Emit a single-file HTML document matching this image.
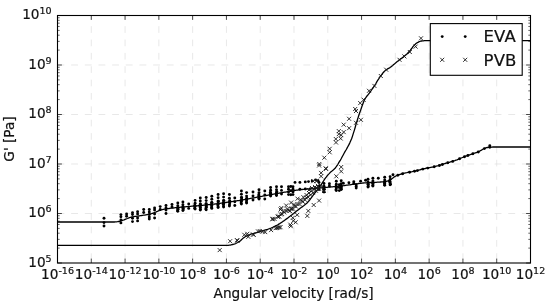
<!DOCTYPE html>
<html><head><meta charset="utf-8"><title>G' vs angular velocity</title><style>html,body{margin:0;padding:0;background:#fff}</style></head><body>
<svg width="550" height="305" viewBox="0 0 550 305" style="display:block;font-family:'DejaVu Sans','Liberation Sans',sans-serif">
<rect width="550" height="305" fill="#fff"/>
<g stroke="#dedede" stroke-width="0.7" fill="none">
<path d="M91.29 263.0V15.5" stroke-dasharray="6.68 6.68" stroke-dashoffset="-3"/>
<path d="M125.07 263.0V15.5" stroke-dasharray="6.68 6.68" stroke-dashoffset="-3"/>
<path d="M158.86 263.0V15.5" stroke-dasharray="6.68 6.68" stroke-dashoffset="-3"/>
<path d="M192.64 263.0V15.5" stroke-dasharray="6.68 6.68" stroke-dashoffset="-3"/>
<path d="M226.43 263.0V15.5" stroke-dasharray="6.68 6.68" stroke-dashoffset="-3"/>
<path d="M260.21 263.0V15.5" stroke-dasharray="6.68 6.68" stroke-dashoffset="-3"/>
<path d="M294.00 263.0V15.5" stroke-dasharray="6.68 6.68" stroke-dashoffset="-3"/>
<path d="M327.79 263.0V15.5" stroke-dasharray="6.68 6.68" stroke-dashoffset="-3"/>
<path d="M361.57 263.0V15.5" stroke-dasharray="6.68 6.68" stroke-dashoffset="-3"/>
<path d="M395.36 263.0V15.5" stroke-dasharray="6.68 6.68" stroke-dashoffset="-3"/>
<path d="M429.14 263.0V15.5" stroke-dasharray="6.68 6.68" stroke-dashoffset="-3"/>
<path d="M462.93 263.0V15.5" stroke-dasharray="6.68 6.68" stroke-dashoffset="-3"/>
<path d="M496.71 263.0V15.5" stroke-dasharray="6.68 6.68" stroke-dashoffset="-3"/>
<path d="M57.5 213.50H530.5" stroke-dasharray="6.83 6.83"/>
<path d="M57.5 164.00H530.5" stroke-dasharray="6.83 6.83"/>
<path d="M57.5 114.50H530.5" stroke-dasharray="6.83 6.83"/>
<path d="M57.5 65.00H530.5" stroke-dasharray="6.83 6.83"/>
</g>
<g fill="none" stroke="#000" stroke-width="1.3" stroke-linejoin="round">
<path d="M57.5 222.0L58.6 222.0L59.7 222.0L60.8 222.0L61.9 222.0L63.0 222.0L64.0 222.0L65.1 222.0L66.2 222.0L67.3 222.0L68.4 222.0L69.5 222.0L70.6 222.0L71.7 222.0L72.8 222.0L73.9 222.0L75.0 222.0L76.1 222.0L77.1 222.0L78.2 222.0L79.3 222.0L80.4 222.0L81.5 222.0L82.6 222.0L83.7 222.0L84.8 222.0L85.9 222.0L87.0 222.0L88.1 222.0L89.2 222.0L90.2 222.0L91.3 222.0L92.4 222.0L93.5 222.0L94.6 222.0L95.7 222.0L96.8 222.0L97.9 222.0L99.0 222.0L100.1 222.0L101.2 222.0L102.3 222.0L103.3 222.0L104.4 222.0L105.5 222.0L106.6 222.0L107.7 222.0L108.8 222.0L109.9 222.0L111.0 222.0L112.1 222.0L113.2 222.0L114.3 222.0L115.3 221.9L116.4 221.8L117.5 221.7L118.6 221.5L119.7 221.3L120.8 221.0L121.9 220.6L123.0 220.2L124.1 219.8L125.2 219.3L126.3 218.9L127.4 218.5L128.4 218.1L129.5 217.7L130.6 217.3L131.7 217.0L132.8 216.8L133.9 216.6L135.0 216.4L136.1 216.3L137.2 216.1L138.3 216.0L139.4 215.8L140.5 215.6L141.5 215.5L142.6 215.3L143.7 215.2L144.8 215.1L145.9 214.9L147.0 214.7L148.1 214.5L149.2 214.3L150.3 214.0L151.4 213.7L152.5 213.3L153.6 212.9L154.6 212.5L155.7 212.1L156.8 211.6L157.9 211.2L159.0 210.7L160.1 210.3L161.2 209.9L162.3 209.6L163.4 209.3L164.5 209.1L165.6 208.9L166.6 208.7L167.7 208.6L168.8 208.5L169.9 208.3L171.0 208.2L172.1 208.1L173.2 208.0L174.3 207.8L175.4 207.7L176.5 207.6L177.6 207.5L178.7 207.4L179.7 207.3L180.8 207.2L181.9 207.1L183.0 207.0L184.1 206.9L185.2 206.8L186.3 206.7L187.4 206.6L188.5 206.5L189.6 206.4L190.7 206.3L191.8 206.2L192.8 206.1L193.9 206.0L195.0 205.9L196.1 205.9L197.2 205.8L198.3 205.7L199.4 205.6L200.5 205.5L201.6 205.4L202.7 205.3L203.8 205.2L204.8 205.1L205.9 205.0L207.0 204.8L208.1 204.7L209.2 204.6L210.3 204.5L211.4 204.4L212.5 204.2L213.6 204.1L214.7 204.0L215.8 203.8L216.9 203.7L217.9 203.5L219.0 203.4L220.1 203.3L221.2 203.1L222.3 203.0L223.4 202.8L224.5 202.7L225.6 202.5L226.7 202.4L227.8 202.2L228.9 202.1L230.0 201.9L231.0 201.7L232.1 201.6L233.2 201.4L234.3 201.2L235.4 201.1L236.5 200.9L237.6 200.7L238.7 200.6L239.8 200.4L240.9 200.2L242.0 200.0L243.1 199.8L244.1 199.6L245.2 199.4L246.3 199.2L247.4 199.0L248.5 198.8L249.6 198.6L250.7 198.4L251.8 198.2L252.9 198.0L254.0 197.8L255.1 197.6L256.1 197.4L257.2 197.2L258.3 197.0L259.4 196.8L260.5 196.6L261.6 196.4L262.7 196.1L263.8 195.9L264.9 195.7L266.0 195.5L267.1 195.3L268.2 195.1L269.2 194.9L270.3 194.7L271.4 194.5L272.5 194.3L273.6 194.1L274.7 193.9L275.8 193.7L276.9 193.6L278.0 193.4L279.1 193.2L280.2 193.0L281.3 192.8L282.3 192.6L283.4 192.4L284.5 192.2L285.6 192.1L286.7 191.9L287.8 191.7L288.9 191.5L290.0 191.3L291.1 191.1L292.2 191.0L293.3 190.8L294.4 190.6L295.4 190.4L296.5 190.2L297.6 190.1L298.7 189.9L299.8 189.8L300.9 189.6L302.0 189.5L303.1 189.4L304.2 189.3L305.3 189.2L306.4 189.1L307.4 189.0L308.5 188.9L309.6 188.8L310.7 188.7L311.8 188.6L312.9 188.5L314.0 188.4L315.1 188.3L316.2 188.2L317.3 188.2L318.4 188.1L319.5 188.0L320.5 187.9L321.6 187.8L322.7 187.7L323.8 187.6L324.9 187.5L326.0 187.4L327.1 187.3L328.2 187.2L329.3 187.1L330.4 187.0L331.5 186.9L332.6 186.8L333.6 186.7L334.7 186.6L335.8 186.5L336.9 186.4L338.0 186.3L339.1 186.2L340.2 186.1L341.3 186.0L342.4 185.8L343.5 185.7L344.6 185.5L345.7 185.4L346.7 185.2L347.8 185.1L348.9 184.9L350.0 184.8L351.1 184.6L352.2 184.4L353.3 184.3L354.4 184.1L355.5 184.0L356.6 183.8L357.7 183.7L358.7 183.5L359.8 183.4L360.9 183.3L362.0 183.1L363.1 183.0L364.2 182.9L365.3 182.8L366.4 182.8L367.5 182.7L368.6 182.6L369.7 182.6L370.8 182.5L371.8 182.5L372.9 182.4L374.0 182.4L375.1 182.3L376.2 182.3L377.3 182.2L378.4 182.2L379.5 182.1L380.6 182.0L381.7 181.9L382.8 181.8L383.9 181.7L384.9 181.6L386.0 181.4L387.1 181.1L388.2 180.8L389.3 180.5L390.4 180.0L391.5 179.0L392.6 178.2L393.7 177.3L394.8 176.6L395.9 176.0L396.9 175.5L398.0 175.0L399.1 174.6L400.2 174.3L401.3 174.0L402.4 173.7L403.5 173.4L404.6 173.1L405.7 172.9L406.8 172.7L407.9 172.4L409.0 172.2L410.0 172.1L411.1 171.9L412.2 171.7L413.3 171.4L414.4 171.2L415.5 171.0L416.6 170.7L417.7 170.4L418.8 170.1L419.9 169.8L421.0 169.5L422.1 169.2L423.1 169.0L424.2 168.7L425.3 168.5L426.4 168.2L427.5 168.0L428.6 167.8L429.7 167.6L430.8 167.4L431.9 167.2L433.0 167.0L434.1 166.7L435.2 166.5L436.2 166.2L437.3 165.9L438.4 165.7L439.5 165.3L440.6 165.0L441.7 164.6L442.8 164.3L443.9 163.9L445.0 163.5L446.1 163.2L447.2 162.9L448.2 162.6L449.3 162.3L450.4 161.9L451.5 161.6L452.6 161.3L453.7 160.9L454.8 160.6L455.9 160.2L457.0 159.8L458.1 159.3L459.2 158.9L460.3 158.4L461.3 158.0L462.4 157.5L463.5 157.1L464.6 156.7L465.7 156.2L466.8 155.8L467.9 155.4L469.0 155.0L470.1 154.7L471.2 154.3L472.3 153.9L473.4 153.5L474.4 153.2L475.5 152.8L476.6 152.5L477.7 152.1L478.8 151.6L479.9 151.0L481.0 150.4L482.1 149.7L483.2 149.0L484.3 148.5L485.4 148.1L486.5 147.7L487.5 147.5L488.6 147.3L489.7 147.2L490.8 147.1L491.9 147.1L493.0 147.0H530.5"/>
<path d="M57.5 245.4L58.4 245.4L59.4 245.4L60.3 245.4L61.2 245.4L62.2 245.4L63.1 245.4L64.0 245.4L65.0 245.4L65.9 245.4L66.8 245.4L67.8 245.4L68.7 245.4L69.6 245.4L70.6 245.4L71.5 245.4L72.4 245.4L73.4 245.4L74.3 245.4L75.2 245.4L76.2 245.4L77.1 245.4L78.0 245.4L79.0 245.4L79.9 245.4L80.8 245.4L81.8 245.4L82.7 245.4L83.6 245.4L84.6 245.4L85.5 245.4L86.4 245.4L87.4 245.4L88.3 245.4L89.2 245.4L90.2 245.4L91.1 245.4L92.0 245.4L93.0 245.4L93.9 245.4L94.8 245.4L95.8 245.4L96.7 245.4L97.6 245.4L98.6 245.4L99.5 245.4L100.4 245.4L101.4 245.4L102.3 245.4L103.2 245.4L104.2 245.4L105.1 245.4L106.0 245.4L107.0 245.4L107.9 245.4L108.8 245.4L109.8 245.4L110.7 245.4L111.6 245.4L112.6 245.4L113.5 245.4L114.4 245.4L115.4 245.4L116.3 245.4L117.2 245.4L118.2 245.4L119.1 245.4L120.1 245.4L121.0 245.4L121.9 245.4L122.9 245.4L123.8 245.4L124.7 245.4L125.7 245.4L126.6 245.4L127.5 245.4L128.5 245.4L129.4 245.4L130.3 245.4L131.3 245.4L132.2 245.4L133.1 245.4L134.1 245.4L135.0 245.4L135.9 245.4L136.9 245.4L137.8 245.4L138.7 245.4L139.7 245.4L140.6 245.4L141.5 245.4L142.5 245.4L143.4 245.4L144.3 245.4L145.3 245.4L146.2 245.4L147.1 245.4L148.1 245.4L149.0 245.4L149.9 245.4L150.9 245.4L151.8 245.4L152.7 245.4L153.7 245.4L154.6 245.4L155.5 245.4L156.5 245.4L157.4 245.4L158.3 245.4L159.3 245.4L160.2 245.4L161.1 245.4L162.1 245.4L163.0 245.4L163.9 245.4L164.9 245.4L165.8 245.4L166.7 245.4L167.7 245.4L168.6 245.4L169.5 245.4L170.5 245.4L171.4 245.4L172.3 245.4L173.3 245.4L174.2 245.4L175.1 245.4L176.1 245.4L177.0 245.4L177.9 245.4L178.9 245.4L179.8 245.4L180.7 245.4L181.7 245.4L182.6 245.4L183.5 245.4L184.5 245.4L185.4 245.4L186.3 245.4L187.3 245.4L188.2 245.4L189.1 245.4L190.1 245.4L191.0 245.4L191.9 245.4L192.9 245.4L193.8 245.4L194.7 245.4L195.7 245.4L196.6 245.4L197.5 245.4L198.5 245.4L199.4 245.4L200.3 245.4L201.3 245.4L202.2 245.4L203.1 245.4L204.1 245.4L205.0 245.4L205.9 245.4L206.9 245.4L207.8 245.4L208.7 245.4L209.7 245.4L210.6 245.4L211.5 245.4L212.5 245.4L213.4 245.4L214.3 245.4L215.3 245.4L216.2 245.4L217.1 245.4L218.1 245.4L219.0 245.4L219.9 245.4L220.9 245.4L221.8 245.4L222.7 245.4L223.7 245.4L224.6 245.4L225.5 245.4L226.5 245.4L227.4 245.4L228.3 245.3L229.3 245.2L230.2 245.1L231.1 244.9L232.1 244.7L233.0 244.5L233.9 244.2L234.9 243.9L235.8 243.5L236.7 243.0L237.7 242.5L238.6 242.0L239.5 241.4L240.5 240.7L241.4 239.8L242.3 238.9L243.3 238.1L244.2 237.4L245.2 236.8L246.1 236.2L247.0 235.8L248.0 235.3L248.9 234.9L249.8 234.6L250.8 234.2L251.7 233.9L252.6 233.7L253.6 233.4L254.5 233.1L255.4 232.8L256.4 232.6L257.3 232.3L258.2 232.1L259.2 231.8L260.1 231.5L261.0 231.2L262.0 231.0L262.9 230.7L263.8 230.5L264.8 230.2L265.7 229.9L266.6 229.6L267.6 229.4L268.5 229.0L269.4 228.7L270.4 228.3L271.3 228.0L272.2 227.5L273.2 227.1L274.1 226.7L275.0 226.2L276.0 225.7L276.9 225.2L277.8 224.7L278.8 224.1L279.7 223.6L280.6 223.0L281.6 222.4L282.5 221.8L283.4 221.1L284.4 220.5L285.3 219.8L286.2 219.1L287.2 218.4L288.1 217.7L289.0 217.0L290.0 216.3L290.9 215.6L291.8 214.9L292.8 214.1L293.7 213.4L294.6 212.6L295.6 211.9L296.5 211.1L297.4 210.4L298.4 209.7L299.3 208.9L300.2 208.2L301.2 207.5L302.1 206.9L303.0 206.2L304.0 205.5L304.9 204.8L305.8 204.0L306.8 203.2L307.7 202.3L308.6 201.2L309.6 200.1L310.5 198.8L311.4 197.6L312.4 196.3L313.3 195.0L314.2 193.8L315.2 192.6L316.1 191.5L317.0 190.3L318.0 189.1L318.9 187.9L319.8 186.7L320.8 185.4L321.7 183.9L322.6 182.4L323.6 180.9L324.5 179.4L325.4 178.1L326.4 176.9L327.3 175.7L328.2 174.6L329.2 173.6L330.1 172.6L331.0 171.7L332.0 171.0L332.9 170.3L333.8 169.5L334.8 168.6L335.7 167.5L336.6 166.2L337.6 164.8L338.5 163.2L339.4 161.7L340.4 160.1L341.3 158.5L342.2 156.8L343.2 155.0L344.1 153.3L345.0 151.6L346.0 150.0L346.9 148.4L347.8 146.7L348.8 144.9L349.7 143.1L350.6 141.1L351.6 138.8L352.5 136.1L353.4 133.1L354.4 130.1L355.3 127.0L356.2 123.7L357.2 120.5L358.1 117.6L359.0 114.8L360.0 112.1L360.9 109.4L361.8 106.7L362.8 104.1L363.7 101.7L364.6 99.6L365.6 98.0L366.5 96.7L367.4 95.5L368.4 94.3L369.3 93.1L370.3 91.8L371.2 90.5L372.1 89.2L373.1 87.9L374.0 86.5L374.9 85.1L375.9 83.5L376.8 81.9L377.7 80.3L378.7 78.8L379.6 77.3L380.5 76.0L381.5 74.8L382.4 73.6L383.3 72.5L384.3 71.5L385.2 70.6L386.1 69.9L387.1 69.3L388.0 68.7L388.9 68.2L389.9 67.6L390.8 66.9L391.7 66.2L392.7 65.4L393.6 64.6L394.5 63.9L395.5 63.1L396.4 62.3L397.3 61.6L398.3 60.8L399.2 60.0L400.1 59.3L401.1 58.6L402.0 58.0L402.9 57.3L403.9 56.6L404.8 55.8L405.7 55.0L406.7 54.2L407.6 53.3L408.5 52.3L409.5 51.3L410.4 50.2L411.3 49.0L412.3 47.7L413.2 46.4L414.1 45.3L415.1 44.4L416.0 43.6L416.9 42.9L417.9 42.4L418.8 41.9L419.7 41.5L420.7 41.2L421.6 41.0L422.5 40.9L423.5 40.8L424.4 40.7L425.3 40.7L426.3 40.6L427.2 40.6L428.1 40.6L429.1 40.6L430.0 40.6H530.5"/>
</g>
<g fill="#000">
<circle cx="104.0" cy="218.3" r="1.45"/>
<circle cx="104.0" cy="222.6" r="1.45"/>
<circle cx="104.0" cy="226.0" r="1.45"/>
<circle cx="120.9" cy="214.6" r="1.45"/>
<circle cx="120.9" cy="216.8" r="1.45"/>
<circle cx="120.9" cy="220.0" r="1.45"/>
<circle cx="120.9" cy="222.9" r="1.45"/>
<circle cx="126.6" cy="214.0" r="1.45"/>
<circle cx="126.6" cy="216.2" r="1.45"/>
<circle cx="132.5" cy="212.7" r="1.45"/>
<circle cx="132.5" cy="214.6" r="1.45"/>
<circle cx="132.5" cy="218.3" r="1.45"/>
<circle cx="132.5" cy="221.6" r="1.45"/>
<circle cx="137.6" cy="211.7" r="1.45"/>
<circle cx="137.6" cy="213.9" r="1.45"/>
<circle cx="137.6" cy="218.0" r="1.45"/>
<circle cx="137.6" cy="220.9" r="1.45"/>
<circle cx="143.7" cy="209.5" r="1.45"/>
<circle cx="143.7" cy="212.5" r="1.45"/>
<circle cx="149.3" cy="209.5" r="1.45"/>
<circle cx="149.3" cy="212.0" r="1.45"/>
<circle cx="149.3" cy="214.5" r="1.45"/>
<circle cx="149.3" cy="217.0" r="1.45"/>
<circle cx="149.3" cy="219.0" r="1.45"/>
<circle cx="154.6" cy="208.0" r="1.45"/>
<circle cx="154.6" cy="210.0" r="1.45"/>
<circle cx="154.6" cy="214.0" r="1.45"/>
<circle cx="154.6" cy="218.0" r="1.45"/>
<circle cx="160.2" cy="206.6" r="1.45"/>
<circle cx="160.2" cy="209.5" r="1.45"/>
<circle cx="166.0" cy="205.5" r="1.45"/>
<circle cx="166.0" cy="208.0" r="1.45"/>
<circle cx="166.0" cy="210.0" r="1.45"/>
<circle cx="166.0" cy="213.5" r="1.45"/>
<circle cx="172.0" cy="204.5" r="1.45"/>
<circle cx="172.0" cy="207.0" r="1.45"/>
<circle cx="177.8" cy="203.0" r="1.45"/>
<circle cx="177.8" cy="205.8" r="1.45"/>
<circle cx="177.8" cy="208.5" r="1.45"/>
<circle cx="177.8" cy="211.3" r="1.45"/>
<circle cx="177.8" cy="207.6" r="1.45"/>
<circle cx="178.0" cy="209.2" r="1.45"/>
<circle cx="177.6" cy="210.7" r="1.45"/>
<circle cx="182.9" cy="202.0" r="1.45"/>
<circle cx="182.9" cy="204.8" r="1.45"/>
<circle cx="182.9" cy="207.7" r="1.45"/>
<circle cx="182.9" cy="210.5" r="1.45"/>
<circle cx="182.9" cy="206.7" r="1.45"/>
<circle cx="183.2" cy="208.3" r="1.45"/>
<circle cx="183.2" cy="209.8" r="1.45"/>
<circle cx="188.7" cy="204.0" r="1.45"/>
<circle cx="188.7" cy="208.4" r="1.45"/>
<circle cx="195.1" cy="200.4" r="1.45"/>
<circle cx="195.1" cy="203.3" r="1.45"/>
<circle cx="195.1" cy="206.1" r="1.45"/>
<circle cx="195.1" cy="209.0" r="1.45"/>
<circle cx="194.8" cy="205.2" r="1.45"/>
<circle cx="194.9" cy="206.7" r="1.45"/>
<circle cx="194.7" cy="208.3" r="1.45"/>
<circle cx="200.3" cy="198.0" r="1.45"/>
<circle cx="200.3" cy="201.0" r="1.45"/>
<circle cx="200.3" cy="204.0" r="1.45"/>
<circle cx="200.3" cy="207.0" r="1.45"/>
<circle cx="200.3" cy="210.0" r="1.45"/>
<circle cx="200.3" cy="204.3" r="1.45"/>
<circle cx="199.9" cy="206.0" r="1.45"/>
<circle cx="200.3" cy="207.6" r="1.45"/>
<circle cx="200.4" cy="209.2" r="1.45"/>
<circle cx="206.2" cy="197.5" r="1.45"/>
<circle cx="206.2" cy="200.6" r="1.45"/>
<circle cx="206.2" cy="203.7" r="1.45"/>
<circle cx="206.2" cy="206.7" r="1.45"/>
<circle cx="206.2" cy="209.8" r="1.45"/>
<circle cx="206.0" cy="203.9" r="1.45"/>
<circle cx="206.3" cy="205.6" r="1.45"/>
<circle cx="206.3" cy="207.3" r="1.45"/>
<circle cx="205.8" cy="209.0" r="1.45"/>
<circle cx="211.8" cy="196.3" r="1.45"/>
<circle cx="211.8" cy="199.3" r="1.45"/>
<circle cx="211.8" cy="202.4" r="1.45"/>
<circle cx="211.8" cy="205.4" r="1.45"/>
<circle cx="211.8" cy="208.4" r="1.45"/>
<circle cx="211.8" cy="202.6" r="1.45"/>
<circle cx="211.6" cy="204.3" r="1.45"/>
<circle cx="211.7" cy="206.0" r="1.45"/>
<circle cx="211.6" cy="207.6" r="1.45"/>
<circle cx="218.1" cy="194.5" r="1.45"/>
<circle cx="218.1" cy="197.8" r="1.45"/>
<circle cx="218.1" cy="201.1" r="1.45"/>
<circle cx="218.1" cy="204.3" r="1.45"/>
<circle cx="218.1" cy="207.6" r="1.45"/>
<circle cx="218.3" cy="201.3" r="1.45"/>
<circle cx="218.1" cy="203.1" r="1.45"/>
<circle cx="217.8" cy="204.9" r="1.45"/>
<circle cx="218.1" cy="206.7" r="1.45"/>
<circle cx="223.6" cy="193.8" r="1.45"/>
<circle cx="223.6" cy="197.1" r="1.45"/>
<circle cx="223.6" cy="200.4" r="1.45"/>
<circle cx="223.6" cy="203.7" r="1.45"/>
<circle cx="223.6" cy="207.0" r="1.45"/>
<circle cx="223.8" cy="200.6" r="1.45"/>
<circle cx="223.4" cy="202.5" r="1.45"/>
<circle cx="223.4" cy="204.3" r="1.45"/>
<circle cx="223.5" cy="206.1" r="1.45"/>
<circle cx="229.4" cy="194.5" r="1.45"/>
<circle cx="229.4" cy="198.3" r="1.45"/>
<circle cx="229.4" cy="202.2" r="1.45"/>
<circle cx="229.4" cy="206.0" r="1.45"/>
<circle cx="229.7" cy="200.6" r="1.45"/>
<circle cx="229.8" cy="202.7" r="1.45"/>
<circle cx="229.5" cy="204.8" r="1.45"/>
<circle cx="234.8" cy="198.0" r="1.45"/>
<circle cx="234.8" cy="201.8" r="1.45"/>
<circle cx="234.8" cy="205.5" r="1.45"/>
<circle cx="241.4" cy="191.0" r="1.45"/>
<circle cx="241.4" cy="194.2" r="1.45"/>
<circle cx="241.4" cy="197.5" r="1.45"/>
<circle cx="241.4" cy="200.8" r="1.45"/>
<circle cx="241.4" cy="204.0" r="1.45"/>
<circle cx="241.7" cy="197.8" r="1.45"/>
<circle cx="241.7" cy="199.5" r="1.45"/>
<circle cx="241.3" cy="201.3" r="1.45"/>
<circle cx="241.1" cy="203.1" r="1.45"/>
<circle cx="246.6" cy="192.6" r="1.45"/>
<circle cx="246.6" cy="196.1" r="1.45"/>
<circle cx="246.6" cy="199.5" r="1.45"/>
<circle cx="246.6" cy="203.0" r="1.45"/>
<circle cx="246.7" cy="198.2" r="1.45"/>
<circle cx="246.6" cy="200.1" r="1.45"/>
<circle cx="246.5" cy="202.0" r="1.45"/>
<circle cx="253.0" cy="192.0" r="1.45"/>
<circle cx="253.0" cy="196.0" r="1.45"/>
<circle cx="253.0" cy="200.0" r="1.45"/>
<circle cx="259.0" cy="189.7" r="1.45"/>
<circle cx="259.0" cy="192.8" r="1.45"/>
<circle cx="259.0" cy="195.9" r="1.45"/>
<circle cx="259.0" cy="199.0" r="1.45"/>
<circle cx="258.8" cy="194.8" r="1.45"/>
<circle cx="258.9" cy="196.5" r="1.45"/>
<circle cx="259.0" cy="198.2" r="1.45"/>
<circle cx="264.8" cy="191.0" r="1.45"/>
<circle cx="264.8" cy="195.0" r="1.45"/>
<circle cx="264.8" cy="199.0" r="1.45"/>
<circle cx="270.6" cy="187.5" r="1.45"/>
<circle cx="270.6" cy="190.3" r="1.45"/>
<circle cx="270.6" cy="193.2" r="1.45"/>
<circle cx="270.6" cy="196.0" r="1.45"/>
<circle cx="270.4" cy="192.2" r="1.45"/>
<circle cx="270.4" cy="193.8" r="1.45"/>
<circle cx="270.6" cy="195.3" r="1.45"/>
<circle cx="276.5" cy="186.8" r="1.45"/>
<circle cx="276.5" cy="189.7" r="1.45"/>
<circle cx="276.5" cy="192.6" r="1.45"/>
<circle cx="276.5" cy="195.5" r="1.45"/>
<circle cx="276.8" cy="191.6" r="1.45"/>
<circle cx="276.6" cy="193.2" r="1.45"/>
<circle cx="276.3" cy="194.8" r="1.45"/>
<circle cx="281.5" cy="186.8" r="1.45"/>
<circle cx="281.5" cy="190.4" r="1.45"/>
<circle cx="281.5" cy="194.0" r="1.45"/>
<circle cx="319.0" cy="182.5" r="1.45"/>
<circle cx="319.0" cy="186.0" r="1.45"/>
<circle cx="319.0" cy="189.5" r="1.45"/>
<circle cx="324.0" cy="183.5" r="1.45"/>
<circle cx="324.0" cy="186.3" r="1.45"/>
<circle cx="324.0" cy="189.2" r="1.45"/>
<circle cx="324.0" cy="192.0" r="1.45"/>
<circle cx="323.8" cy="188.2" r="1.45"/>
<circle cx="324.0" cy="189.8" r="1.45"/>
<circle cx="323.8" cy="191.3" r="1.45"/>
<circle cx="329.4" cy="183.7" r="1.45"/>
<circle cx="329.4" cy="186.0" r="1.45"/>
<circle cx="336.3" cy="181.2" r="1.45"/>
<circle cx="336.3" cy="184.3" r="1.45"/>
<circle cx="336.3" cy="187.5" r="1.45"/>
<circle cx="336.3" cy="190.6" r="1.45"/>
<circle cx="336.1" cy="186.3" r="1.45"/>
<circle cx="336.3" cy="188.1" r="1.45"/>
<circle cx="336.0" cy="189.8" r="1.45"/>
<circle cx="339.3" cy="184.7" r="1.45"/>
<circle cx="339.3" cy="187.6" r="1.45"/>
<circle cx="339.3" cy="190.6" r="1.45"/>
<circle cx="341.2" cy="180.7" r="1.45"/>
<circle cx="341.2" cy="183.7" r="1.45"/>
<circle cx="341.2" cy="186.6" r="1.45"/>
<circle cx="341.2" cy="189.6" r="1.45"/>
<circle cx="341.2" cy="185.6" r="1.45"/>
<circle cx="341.1" cy="187.2" r="1.45"/>
<circle cx="341.4" cy="188.9" r="1.45"/>
<circle cx="343.3" cy="183.2" r="1.45"/>
<circle cx="348.9" cy="182.7" r="1.45"/>
<circle cx="353.8" cy="181.7" r="1.45"/>
<circle cx="353.8" cy="183.4" r="1.45"/>
<circle cx="356.2" cy="184.7" r="1.45"/>
<circle cx="356.2" cy="186.4" r="1.45"/>
<circle cx="356.2" cy="188.1" r="1.45"/>
<circle cx="360.6" cy="181.2" r="1.45"/>
<circle cx="365.6" cy="180.2" r="1.45"/>
<circle cx="368.0" cy="179.3" r="1.45"/>
<circle cx="368.0" cy="181.9" r="1.45"/>
<circle cx="368.0" cy="184.5" r="1.45"/>
<circle cx="368.0" cy="187.1" r="1.45"/>
<circle cx="368.2" cy="183.7" r="1.45"/>
<circle cx="368.2" cy="185.1" r="1.45"/>
<circle cx="368.2" cy="186.6" r="1.45"/>
<circle cx="372.9" cy="178.3" r="1.45"/>
<circle cx="372.9" cy="180.9" r="1.45"/>
<circle cx="372.9" cy="183.5" r="1.45"/>
<circle cx="372.9" cy="186.1" r="1.45"/>
<circle cx="372.8" cy="182.7" r="1.45"/>
<circle cx="373.0" cy="184.1" r="1.45"/>
<circle cx="372.8" cy="185.6" r="1.45"/>
<circle cx="378.3" cy="178.3" r="1.45"/>
<circle cx="384.7" cy="177.3" r="1.45"/>
<circle cx="384.7" cy="179.9" r="1.45"/>
<circle cx="384.7" cy="182.6" r="1.45"/>
<circle cx="384.7" cy="185.2" r="1.45"/>
<circle cx="384.8" cy="181.8" r="1.45"/>
<circle cx="384.6" cy="183.2" r="1.45"/>
<circle cx="384.7" cy="184.7" r="1.45"/>
<circle cx="390.1" cy="176.8" r="1.45"/>
<circle cx="390.1" cy="179.4" r="1.45"/>
<circle cx="390.1" cy="182.1" r="1.45"/>
<circle cx="390.1" cy="184.7" r="1.45"/>
<circle cx="389.7" cy="181.3" r="1.45"/>
<circle cx="389.9" cy="182.7" r="1.45"/>
<circle cx="390.5" cy="184.2" r="1.45"/>
<circle cx="393.0" cy="174.8" r="1.45"/>
<circle cx="295.0" cy="182.4" r="1.45"/>
<circle cx="299.9" cy="182.4" r="1.45"/>
<circle cx="305.3" cy="181.9" r="1.45"/>
<circle cx="308.5" cy="181.6" r="1.45"/>
<circle cx="312.2" cy="180.9" r="1.45"/>
<circle cx="315.6" cy="180.0" r="1.45"/>
<circle cx="318.0" cy="180.6" r="1.45"/>
<circle cx="299.9" cy="189.3" r="1.45"/>
<circle cx="305.3" cy="189.0" r="1.45"/>
<circle cx="310.5" cy="188.6" r="1.45"/>
<circle cx="288.5" cy="186.7" r="1.45"/>
<circle cx="288.5" cy="189.3" r="1.45"/>
<circle cx="288.5" cy="192.0" r="1.45"/>
<circle cx="288.5" cy="194.6" r="1.45"/>
<circle cx="293.0" cy="186.7" r="1.45"/>
<circle cx="293.0" cy="189.3" r="1.45"/>
<circle cx="293.0" cy="192.0" r="1.45"/>
<circle cx="293.0" cy="194.6" r="1.45"/>
<circle cx="290.8" cy="186.5" r="1.45"/>
<circle cx="290.8" cy="190.6" r="1.45"/>
<circle cx="290.8" cy="194.8" r="1.45"/>
<circle cx="397.8" cy="175.2" r="1.45"/>
<circle cx="402.7" cy="173.7" r="1.45"/>
<circle cx="409.6" cy="172.2" r="1.45"/>
<circle cx="414.5" cy="171.3" r="1.45"/>
<circle cx="417.4" cy="170.6" r="1.45"/>
<circle cx="422.9" cy="169.1" r="1.45"/>
<circle cx="427.8" cy="168.1" r="1.45"/>
<circle cx="434.2" cy="166.8" r="1.45"/>
<circle cx="439.4" cy="165.5" r="1.45"/>
<circle cx="442.4" cy="164.5" r="1.45"/>
<circle cx="447.8" cy="162.8" r="1.45"/>
<circle cx="452.7" cy="161.4" r="1.45"/>
<circle cx="459.6" cy="158.8" r="1.45"/>
<circle cx="464.5" cy="156.8" r="1.45"/>
<circle cx="467.9" cy="155.5" r="1.45"/>
<circle cx="472.9" cy="153.8" r="1.45"/>
<circle cx="478.3" cy="152.0" r="1.45"/>
<circle cx="484.4" cy="148.6" r="1.45"/>
<circle cx="489.8" cy="145.7" r="1.45"/>
<circle cx="489.8" cy="147.3" r="1.45"/>
</g>
<g stroke="#1a1a1a" stroke-width="0.9" fill="none">
<path d="M217.7 248.1l4.0 4.0m0 -4.0l-4.0 4.0M228.1 239.2l4.0 4.0m0 -4.0l-4.0 4.0M235.0 238.2l4.0 4.0m0 -4.0l-4.0 4.0M235.4 238.6l4.0 4.0m0 -4.0l-4.0 4.0M242.3 232.8l4.0 4.0m0 -4.0l-4.0 4.0M245.3 231.8l4.0 4.0m0 -4.0l-4.0 4.0M246.3 234.8l4.0 4.0m0 -4.0l-4.0 4.0M251.7 232.8l4.0 4.0m0 -4.0l-4.0 4.0M251.0 232.5l4.0 4.0m0 -4.0l-4.0 4.0M256.0 229.4l4.0 4.0m0 -4.0l-4.0 4.0M257.8 229.1l4.0 4.0m0 -4.0l-4.0 4.0M260.8 229.6l4.0 4.0m0 -4.0l-4.0 4.0M263.2 230.1l4.0 4.0m0 -4.0l-4.0 4.0M269.1 228.1l4.0 4.0m0 -4.0l-4.0 4.0M273.6 226.2l4.0 4.0m0 -4.0l-4.0 4.0M276.0 225.7l4.0 4.0m0 -4.0l-4.0 4.0M278.5 225.2l4.0 4.0m0 -4.0l-4.0 4.0M274.8 225.9l4.0 4.0m0 -4.0l-4.0 4.0M277.2 225.3l4.0 4.0m0 -4.0l-4.0 4.0M270.6 216.8l4.0 4.0m0 -4.0l-4.0 4.0M276.0 214.4l4.0 4.0m0 -4.0l-4.0 4.0M280.0 211.9l4.0 4.0m0 -4.0l-4.0 4.0M278.5 207.5l4.0 4.0m0 -4.0l-4.0 4.0M284.4 209.0l4.0 4.0m0 -4.0l-4.0 4.0M289.3 207.0l4.0 4.0m0 -4.0l-4.0 4.0M270.4 217.3l4.0 4.0m0 -4.0l-4.0 4.0M275.8 214.8l4.0 4.0m0 -4.0l-4.0 4.0M278.8 212.4l4.0 4.0m0 -4.0l-4.0 4.0M279.3 206.0l4.0 4.0m0 -4.0l-4.0 4.0M282.2 210.4l4.0 4.0m0 -4.0l-4.0 4.0M284.2 203.5l4.0 4.0m0 -4.0l-4.0 4.0M286.2 208.4l4.0 4.0m0 -4.0l-4.0 4.0M289.6 206.5l4.0 4.0m0 -4.0l-4.0 4.0M289.1 200.6l4.0 4.0m0 -4.0l-4.0 4.0M292.5 204.0l4.0 4.0m0 -4.0l-4.0 4.0M295.5 202.1l4.0 4.0m0 -4.0l-4.0 4.0M295.5 196.7l4.0 4.0m0 -4.0l-4.0 4.0M299.9 198.6l4.0 4.0m0 -4.0l-4.0 4.0M301.4 195.2l4.0 4.0m0 -4.0l-4.0 4.0M304.3 195.7l4.0 4.0m0 -4.0l-4.0 4.0M272.5 216.9l4.0 4.0m0 -4.0l-4.0 4.0M277.3 214.6l4.0 4.0m0 -4.0l-4.0 4.0M281.5 209.2l4.0 4.0m0 -4.0l-4.0 4.0M285.5 207.0l4.0 4.0m0 -4.0l-4.0 4.0M287.9 208.9l4.0 4.0m0 -4.0l-4.0 4.0M291.0 206.7l4.0 4.0m0 -4.0l-4.0 4.0M292.0 202.6l4.0 4.0m0 -4.0l-4.0 4.0M294.0 204.6l4.0 4.0m0 -4.0l-4.0 4.0M297.5 202.0l4.0 4.0m0 -4.0l-4.0 4.0M298.5 198.0l4.0 4.0m0 -4.0l-4.0 4.0M300.8 199.8l4.0 4.0m0 -4.0l-4.0 4.0M303.0 197.8l4.0 4.0m0 -4.0l-4.0 4.0M304.5 193.0l4.0 4.0m0 -4.0l-4.0 4.0M306.0 195.0l4.0 4.0m0 -4.0l-4.0 4.0M307.0 191.0l4.0 4.0m0 -4.0l-4.0 4.0M308.5 193.0l4.0 4.0m0 -4.0l-4.0 4.0M309.5 189.0l4.0 4.0m0 -4.0l-4.0 4.0M311.0 190.8l4.0 4.0m0 -4.0l-4.0 4.0M312.0 187.5l4.0 4.0m0 -4.0l-4.0 4.0M314.0 188.8l4.0 4.0m0 -4.0l-4.0 4.0M315.0 186.0l4.0 4.0m0 -4.0l-4.0 4.0M317.0 186.8l4.0 4.0m0 -4.0l-4.0 4.0M320.0 184.4l4.0 4.0m0 -4.0l-4.0 4.0M307.0 188.0l4.0 4.0m0 -4.0l-4.0 4.0M310.0 186.0l4.0 4.0m0 -4.0l-4.0 4.0M313.0 185.0l4.0 4.0m0 -4.0l-4.0 4.0M316.0 184.0l4.0 4.0m0 -4.0l-4.0 4.0M288.3 222.7l4.0 4.0m0 -4.0l-4.0 4.0M291.3 218.8l4.0 4.0m0 -4.0l-4.0 4.0M293.7 220.3l4.0 4.0m0 -4.0l-4.0 4.0M295.2 212.9l4.0 4.0m0 -4.0l-4.0 4.0M290.8 215.8l4.0 4.0m0 -4.0l-4.0 4.0M288.8 224.2l4.0 4.0m0 -4.0l-4.0 4.0M306.3 208.9l4.0 4.0m0 -4.0l-4.0 4.0M305.3 213.9l4.0 4.0m0 -4.0l-4.0 4.0M311.7 203.0l4.0 4.0m0 -4.0l-4.0 4.0M317.1 198.6l4.0 4.0m0 -4.0l-4.0 4.0M317.1 163.5l4.0 4.0m0 -4.0l-4.0 4.0M324.0 166.9l4.0 4.0m0 -4.0l-4.0 4.0M319.1 170.9l4.0 4.0m0 -4.0l-4.0 4.0M319.1 174.3l4.0 4.0m0 -4.0l-4.0 4.0M339.2 165.0l4.0 4.0m0 -4.0l-4.0 4.0M339.2 169.4l4.0 4.0m0 -4.0l-4.0 4.0M334.3 174.3l4.0 4.0m0 -4.0l-4.0 4.0M322.0 189.0l4.0 4.0m0 -4.0l-4.0 4.0M311.2 179.2l4.0 4.0m0 -4.0l-4.0 4.0M314.6 179.2l4.0 4.0m0 -4.0l-4.0 4.0M334.0 140.5l4.0 4.0m0 -4.0l-4.0 4.0M327.7 146.8l4.0 4.0m0 -4.0l-4.0 4.0M327.7 150.3l4.0 4.0m0 -4.0l-4.0 4.0M322.3 155.7l4.0 4.0m0 -4.0l-4.0 4.0M317.3 162.0l4.0 4.0m0 -4.0l-4.0 4.0M323.7 166.3l4.0 4.0m0 -4.0l-4.0 4.0M354.0 109.0l4.0 4.0m0 -4.0l-4.0 4.0M347.1 116.8l4.0 4.0m0 -4.0l-4.0 4.0M358.9 117.8l4.0 4.0m0 -4.0l-4.0 4.0M354.0 120.8l4.0 4.0m0 -4.0l-4.0 4.0M341.7 122.7l4.0 4.0m0 -4.0l-4.0 4.0M347.1 126.2l4.0 4.0m0 -4.0l-4.0 4.0M336.8 129.1l4.0 4.0m0 -4.0l-4.0 4.0M341.7 130.1l4.0 4.0m0 -4.0l-4.0 4.0M336.8 132.1l4.0 4.0m0 -4.0l-4.0 4.0M339.2 133.1l4.0 4.0m0 -4.0l-4.0 4.0M333.8 137.0l4.0 4.0m0 -4.0l-4.0 4.0M338.7 136.5l4.0 4.0m0 -4.0l-4.0 4.0M353.2 107.0l4.0 4.0m0 -4.0l-4.0 4.0M358.2 101.1l4.0 4.0m0 -4.0l-4.0 4.0M361.6 97.7l4.0 4.0m0 -4.0l-4.0 4.0M367.0 88.8l4.0 4.0m0 -4.0l-4.0 4.0M372.4 83.9l4.0 4.0m0 -4.0l-4.0 4.0M378.8 74.0l4.0 4.0m0 -4.0l-4.0 4.0M384.2 67.7l4.0 4.0m0 -4.0l-4.0 4.0M397.5 57.8l4.0 4.0m0 -4.0l-4.0 4.0M402.4 54.4l4.0 4.0m0 -4.0l-4.0 4.0M407.8 50.0l4.0 4.0m0 -4.0l-4.0 4.0M413.6 44.6l4.0 4.0m0 -4.0l-4.0 4.0M419.0 36.3l4.0 4.0m0 -4.0l-4.0 4.0"/>
</g>
<g stroke="#000" fill="none">
<rect x="57.5" y="15.5" width="473.0" height="247.5" stroke-width="1.1"/>
<path d="M57.50 263.0v-4.4M57.50 15.5v4.4M91.29 263.0v-4.4M91.29 15.5v4.4M125.07 263.0v-4.4M125.07 15.5v4.4M158.86 263.0v-4.4M158.86 15.5v4.4M192.64 263.0v-4.4M192.64 15.5v4.4M226.43 263.0v-4.4M226.43 15.5v4.4M260.21 263.0v-4.4M260.21 15.5v4.4M294.00 263.0v-4.4M294.00 15.5v4.4M327.79 263.0v-4.4M327.79 15.5v4.4M361.57 263.0v-4.4M361.57 15.5v4.4M395.36 263.0v-4.4M395.36 15.5v4.4M429.14 263.0v-4.4M429.14 15.5v4.4M462.93 263.0v-4.4M462.93 15.5v4.4M496.71 263.0v-4.4M496.71 15.5v4.4M530.50 263.0v-4.4M530.50 15.5v4.4M57.5 263.00h4.4M530.5 263.00h-4.4M57.5 213.50h4.4M530.5 213.50h-4.4M57.5 164.00h4.4M530.5 164.00h-4.4M57.5 114.50h4.4M530.5 114.50h-4.4M57.5 65.00h4.4M530.5 65.00h-4.4M57.5 15.50h4.4M530.5 15.50h-4.4" stroke-width="0.7"/>
<path d="M57.5 248.10h2.2M530.5 248.10h-2.2M57.5 239.38h2.2M530.5 239.38h-2.2M57.5 233.20h2.2M530.5 233.20h-2.2M57.5 228.40h2.2M530.5 228.40h-2.2M57.5 224.48h2.2M530.5 224.48h-2.2M57.5 221.17h2.2M530.5 221.17h-2.2M57.5 218.30h2.2M530.5 218.30h-2.2M57.5 215.76h2.2M530.5 215.76h-2.2M57.5 198.60h2.2M530.5 198.60h-2.2M57.5 189.88h2.2M530.5 189.88h-2.2M57.5 183.70h2.2M530.5 183.70h-2.2M57.5 178.90h2.2M530.5 178.90h-2.2M57.5 174.98h2.2M530.5 174.98h-2.2M57.5 171.67h2.2M530.5 171.67h-2.2M57.5 168.80h2.2M530.5 168.80h-2.2M57.5 166.26h2.2M530.5 166.26h-2.2M57.5 149.10h2.2M530.5 149.10h-2.2M57.5 140.38h2.2M530.5 140.38h-2.2M57.5 134.20h2.2M530.5 134.20h-2.2M57.5 129.40h2.2M530.5 129.40h-2.2M57.5 125.48h2.2M530.5 125.48h-2.2M57.5 122.17h2.2M530.5 122.17h-2.2M57.5 119.30h2.2M530.5 119.30h-2.2M57.5 116.76h2.2M530.5 116.76h-2.2M57.5 99.60h2.2M530.5 99.60h-2.2M57.5 90.88h2.2M530.5 90.88h-2.2M57.5 84.70h2.2M530.5 84.70h-2.2M57.5 79.90h2.2M530.5 79.90h-2.2M57.5 75.98h2.2M530.5 75.98h-2.2M57.5 72.67h2.2M530.5 72.67h-2.2M57.5 69.80h2.2M530.5 69.80h-2.2M57.5 67.26h2.2M530.5 67.26h-2.2M57.5 50.10h2.2M530.5 50.10h-2.2M57.5 41.38h2.2M530.5 41.38h-2.2M57.5 35.20h2.2M530.5 35.20h-2.2M57.5 30.40h2.2M530.5 30.40h-2.2M57.5 26.48h2.2M530.5 26.48h-2.2M57.5 23.17h2.2M530.5 23.17h-2.2M57.5 20.30h2.2M530.5 20.30h-2.2M57.5 17.76h2.2M530.5 17.76h-2.2" stroke-width="0.6"/>
</g>
<g fill="#111" font-size="13.65" stroke="#111" stroke-width="0.2">
<text x="57.50" y="278.9" text-anchor="middle">10<tspan font-size="9.55" dy="-5">-16</tspan></text>
<text x="91.29" y="278.9" text-anchor="middle">10<tspan font-size="9.55" dy="-5">-14</tspan></text>
<text x="125.07" y="278.9" text-anchor="middle">10<tspan font-size="9.55" dy="-5">-12</tspan></text>
<text x="158.86" y="278.9" text-anchor="middle">10<tspan font-size="9.55" dy="-5">-10</tspan></text>
<text x="192.64" y="278.9" text-anchor="middle">10<tspan font-size="9.55" dy="-5">-8</tspan></text>
<text x="226.43" y="278.9" text-anchor="middle">10<tspan font-size="9.55" dy="-5">-6</tspan></text>
<text x="260.21" y="278.9" text-anchor="middle">10<tspan font-size="9.55" dy="-5">-4</tspan></text>
<text x="294.00" y="278.9" text-anchor="middle">10<tspan font-size="9.55" dy="-5">-2</tspan></text>
<text x="327.79" y="278.9" text-anchor="middle">10<tspan font-size="9.55" dy="-5">0</tspan></text>
<text x="361.57" y="278.9" text-anchor="middle">10<tspan font-size="9.55" dy="-5">2</tspan></text>
<text x="395.36" y="278.9" text-anchor="middle">10<tspan font-size="9.55" dy="-5">4</tspan></text>
<text x="429.14" y="278.9" text-anchor="middle">10<tspan font-size="9.55" dy="-5">6</tspan></text>
<text x="462.93" y="278.9" text-anchor="middle">10<tspan font-size="9.55" dy="-5">8</tspan></text>
<text x="496.71" y="278.9" text-anchor="middle">10<tspan font-size="9.55" dy="-5">10</tspan></text>
<text x="530.50" y="278.9" text-anchor="middle">10<tspan font-size="9.55" dy="-5">12</tspan></text>
<text x="51.7" y="266.90" text-anchor="end">10<tspan font-size="9.55" dy="-5">5</tspan></text>
<text x="51.7" y="217.40" text-anchor="end">10<tspan font-size="9.55" dy="-5">6</tspan></text>
<text x="51.7" y="167.90" text-anchor="end">10<tspan font-size="9.55" dy="-5">7</tspan></text>
<text x="51.7" y="118.40" text-anchor="end">10<tspan font-size="9.55" dy="-5">8</tspan></text>
<text x="51.7" y="68.90" text-anchor="end">10<tspan font-size="9.55" dy="-5">9</tspan></text>
<text x="51.7" y="19.40" text-anchor="end">10<tspan font-size="9.55" dy="-5">10</tspan></text>
<text x="293.6" y="297.6" text-anchor="middle">Angular velocity [rad/s]</text>
<text transform="translate(13.6,139) rotate(-90)" text-anchor="middle">G' [Pa]</text>
</g>
<rect x="430.3" y="23.6" width="91.9" height="51.7" fill="#fff" stroke="#000" stroke-width="1.1"/>
<g fill="#000"><circle cx="442.2" cy="36.6" r="1.45"/><circle cx="465.2" cy="36.6" r="1.45"/></g>
<path d="M440.2 57.8l4.0 4.0m0 -4.0l-4.0 4.0M463.2 57.8l4.0 4.0m0 -4.0l-4.0 4.0" stroke="#1a1a1a" stroke-width="0.9" fill="none"/>
<g fill="#111" font-size="16.5" stroke="#111" stroke-width="0.2" letter-spacing="0.1"><text x="483.6" y="42">EVA</text><text x="483.6" y="65.5">PVB</text></g>
</svg>
</body></html>
